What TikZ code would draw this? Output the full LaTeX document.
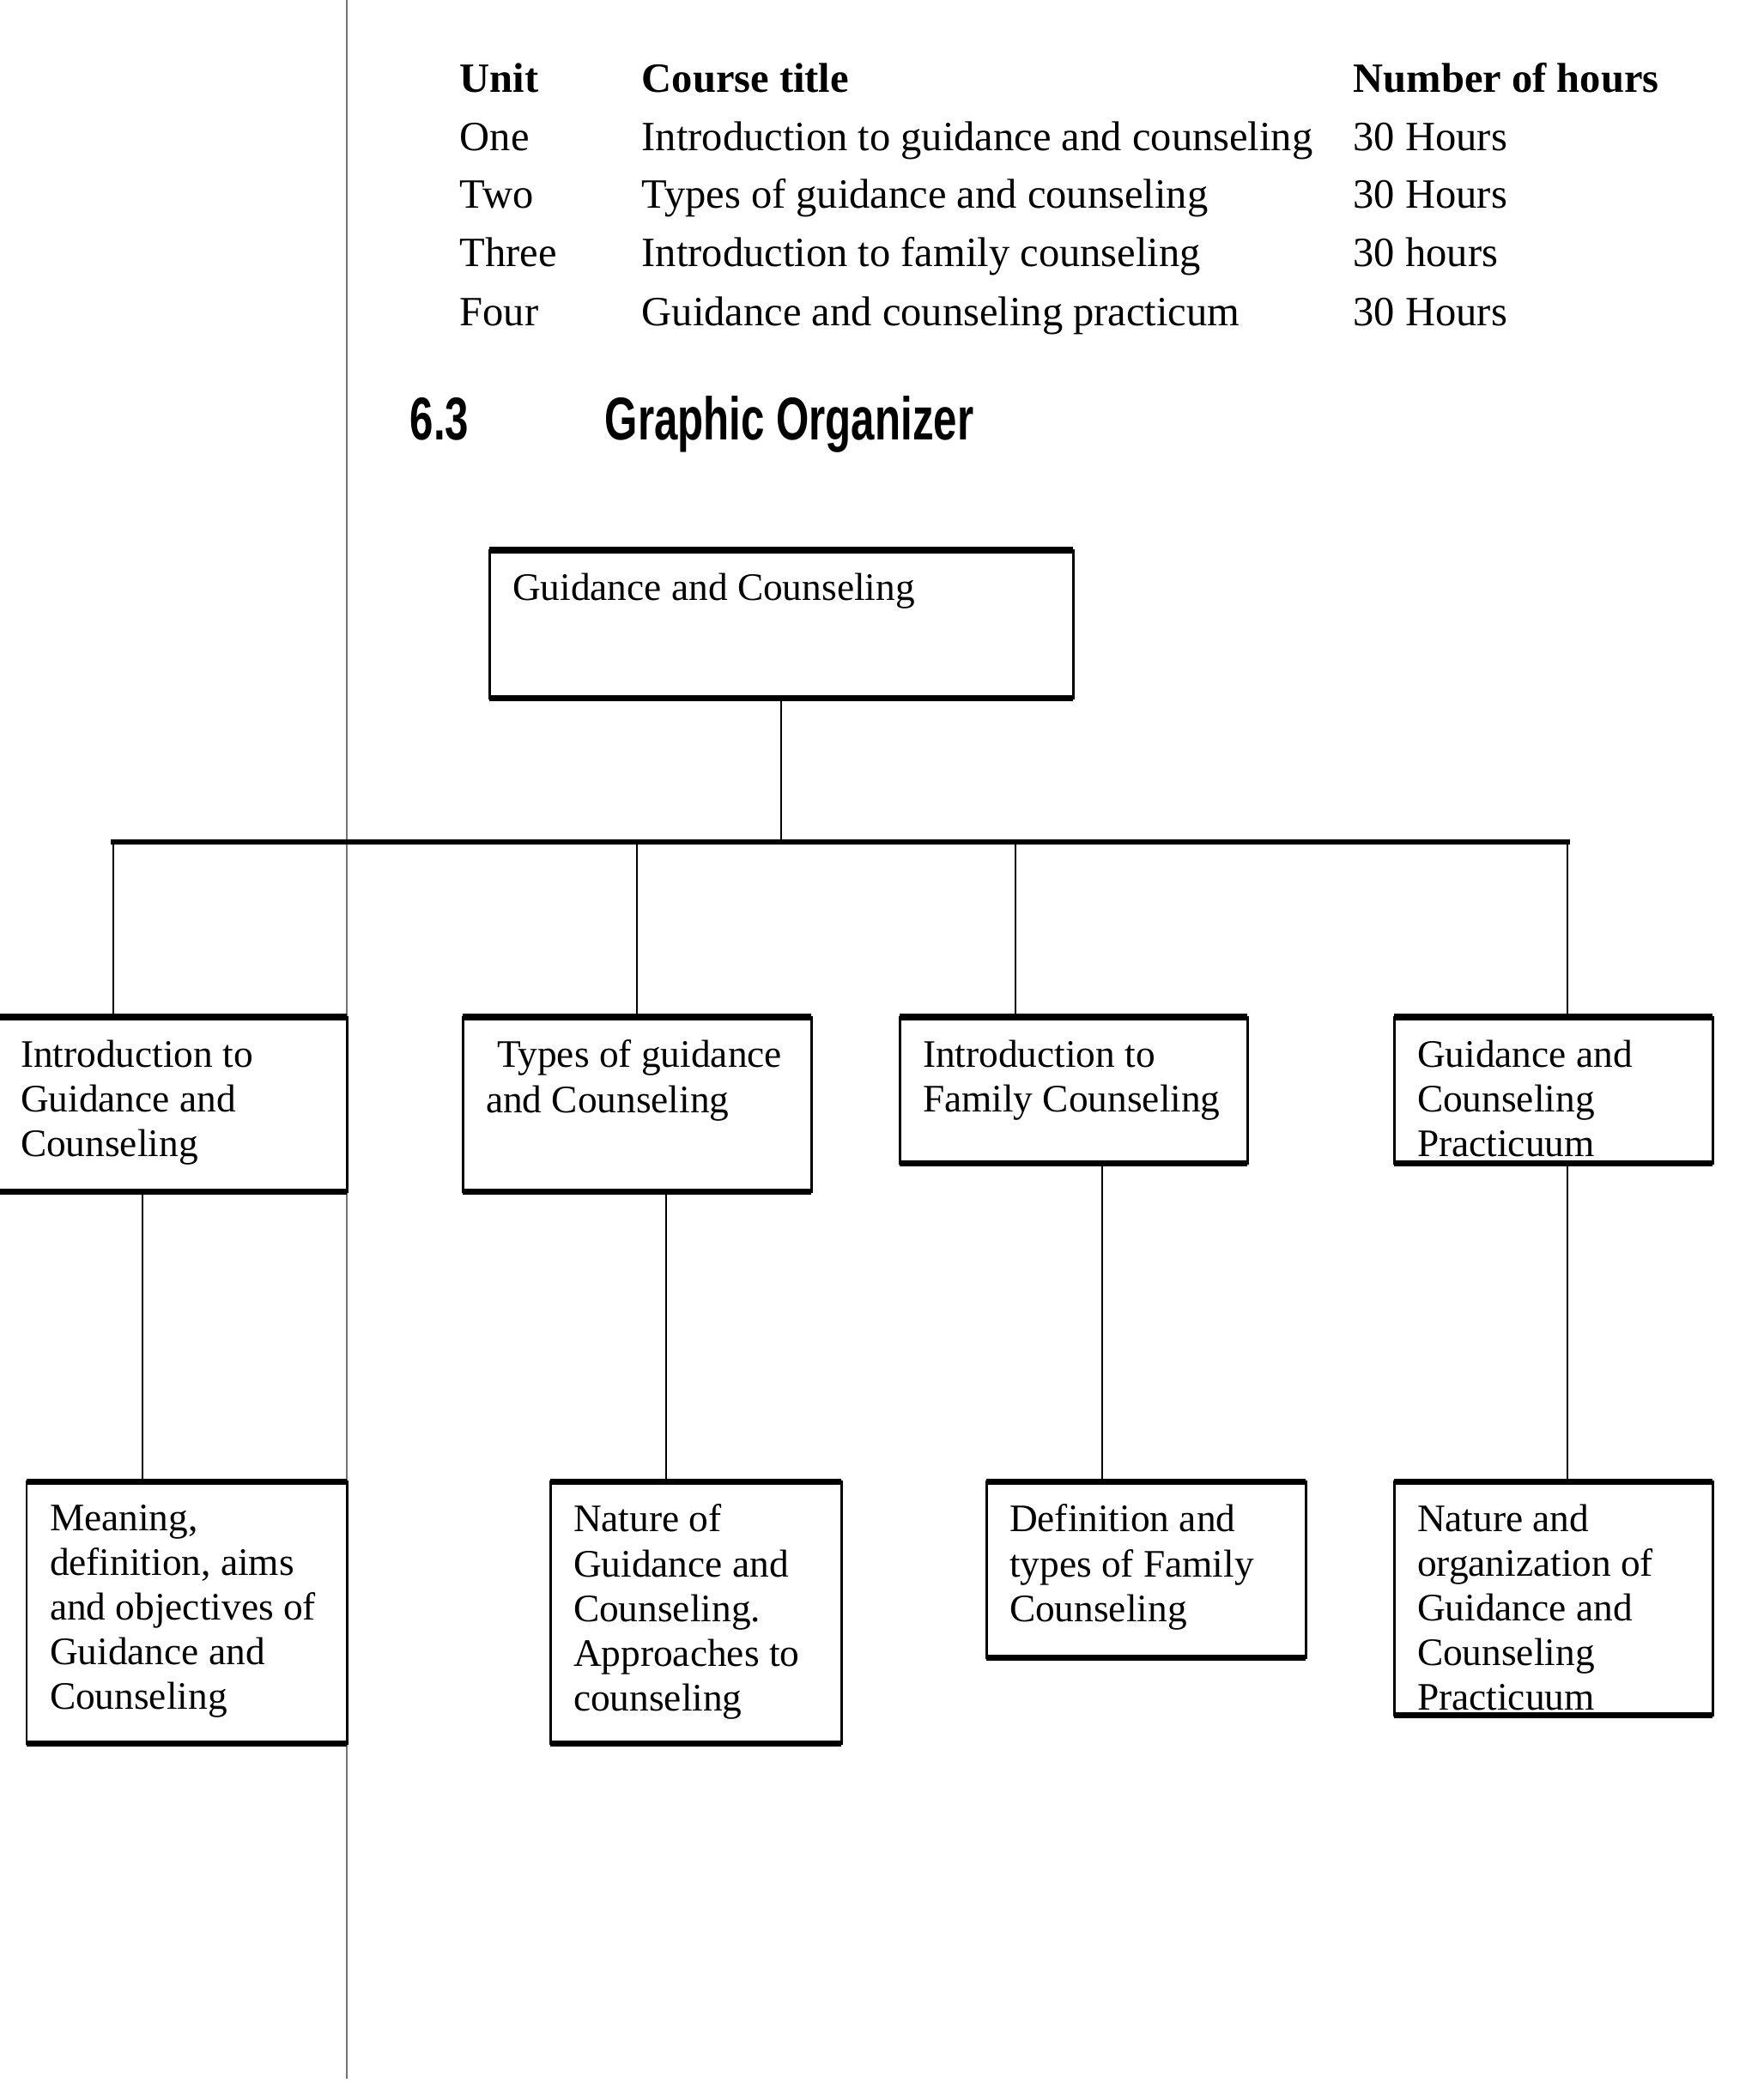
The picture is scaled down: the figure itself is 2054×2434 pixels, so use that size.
\documentclass[tikz,border=0pt]{standalone}
\usepackage{fontspec}
\setmainfont{Liberation Serif}
\newfontfamily\headfont{Liberation Sans}
\usepackage{tikz}

\newlength{\boxpad}
\setlength{\boxpad}{0.27cm}
% box text: height, width, lines
\newcommand{\boxlines}[3]{\parbox[t][\dimexpr#1-2\boxpad\relax][t]{\dimexpr#2-2\boxpad\relax}{\raggedright #3}}

\begin{document}
\begin{tikzpicture}[x=0.01cm,y=-0.01cm,
  cell/.style={anchor=base west,inner sep=0pt,font=\fontsize{13.8}{16}\selectfont},
  headcell/.style={cell,font=\fontsize{13.8}{16}\selectfont\bfseries},
  sechead/.style={anchor=base west,inner sep=0pt,font=\headfont\bfseries\fontsize{20}{24}\selectfont},
  box/.style={draw,line width=0.85pt,anchor=north west,inner sep=\boxpad,outer sep=0pt,
    font=\fontsize{12.9}{14.8}\selectfont},
  edgeline/.style={line width=2pt},
  link/.style={line width=0.7pt},
  bar/.style={line width=1.8pt}]
\useasboundingbox (0,0) rectangle (2054,2434);

% page rule
\draw[black!55,line width=0.4pt] (404,0) -- (404,2422);

% table
\node[headcell] (unitH) at (535,108) {Unit};
\node[headcell] (titleH) at (747,108) {Course title};
\node[headcell] (hoursH) at (1576,108) {Number of hours};
\node[cell] (unit1) at (535,176) {One};
\node[cell] (title1) at (747,176) {Introduction to guidance and counseling};
\node[cell] (hours1) at (1576,176) {30 Hours};
\node[cell] (unit2) at (535,243) {Two};
\node[cell] (title2) at (747,243) {Types of guidance and counseling};
\node[cell] (hours2) at (1576,243) {30 Hours};
\node[cell] (unit3) at (535,311) {Three};
\node[cell] (title3) at (747,311) {Introduction to family counseling};
\node[cell] (hours3) at (1576,311) {30 hours};
\node[cell] (unit4) at (535,380) {Four};
\node[cell] (title4) at (747,380) {Guidance and counseling practicum};
\node[cell] (hours4) at (1576,380) {30 Hours};

% section heading
\node[sechead] (secnum) at (477,513) {\scalebox{0.7}[1]{6.3}};
\node[sechead] (sectitle) at (704,513) {\scalebox{0.7}[1]{Graphic Organizer}};

% organizer boxes
\node[box] (top) at (570,641) {\boxlines{1.72cm}{6.80cm}{Guidance and Counseling}};

\node[box] (u1) at (-3,1185) {\boxlines{2.03cm}{4.07cm}{Introduction to\\Guidance and\\Counseling}};
\node[box] (u2) at (539,1185) {\boxlines{2.03cm}{4.06cm}{\hspace*{0.13cm}Types of guidance\\and Counseling}};
\node[box] (u3) at (1048,1185) {\boxlines{1.70cm}{4.05cm}{Introduction to\\Family Counseling}};
\node[box] (u4) at (1624,1185) {\boxlines{1.70cm}{3.71cm}{Guidance and\\Counseling\\Practicuum}};

\node[box] (d1) at (31,1726) {\boxlines{3.05cm}{3.73cm}{Meaning,\\definition, aims\\and objectives of\\Guidance and\\Counseling}};
\node[box] (d2) at (641,1726) {\boxlines{3.05cm}{3.39cm}{Nature of\\Guidance and\\Counseling.\\Approaches to\\counseling}};
\node[box] (d3) at (1149,1726) {\boxlines{2.05cm}{3.72cm}{Definition and\\types of Family\\Counseling}};
\node[box] (d4) at (1624,1726) {\boxlines{2.72cm}{3.71cm}{Nature and\\organization of\\Guidance and\\Counseling\\Practicuum}};

% heavy top and bottom edges
\foreach \b in {top,u1,u2,u3,u4,d1,d2,d3,d4}
  \draw[edgeline] (\b.north west) -- (\b.north east) (\b.south west) -- (\b.south east);

% connectors
\coordinate (barL) at (129,981);
\coordinate (barR) at (1829,981);
\coordinate (j1) at (132,981);
\coordinate (j2) at (742,981);
\coordinate (j3) at (1183,981);
\coordinate (j4) at (1826,981);
\draw[bar] (barL) -- (barR);
\draw[link] (top.south) -- (top.south |- barL);
\draw[link] (j1) -- (j1 |- u1.north);
\draw[link] (j2) -- (j2 |- u2.north);
\draw[link] (j3) -- (j3 |- u3.north);
\draw[link] (j4) -- (j4 |- u4.north);

\coordinate (s1) at (166,1388);
\coordinate (s2) at (776,1388);
\coordinate (s3) at (1284,1355);
\coordinate (s4) at (1826,1355);
\draw[link] (s1) -- (s1 |- d1.north);
\draw[link] (s2) -- (s2 |- d2.north);
\draw[link] (s3) -- (s3 |- d3.north);
\draw[link] (s4) -- (s4 |- d4.north);
\end{tikzpicture}
\end{document}
